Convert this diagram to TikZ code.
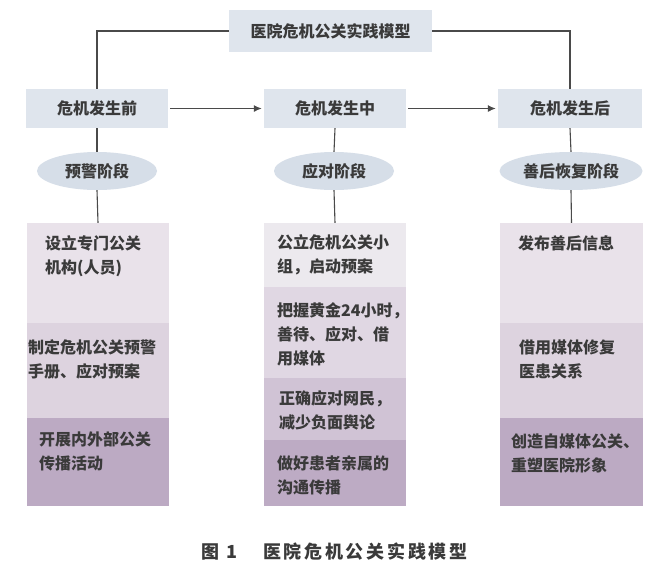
\documentclass[tikz,border=0pt]{standalone}
\usepackage{fontspec}
\setmainfont{Noto Sans CJK SC}
\newfontfamily\cjk{Noto Sans CJK SC}
\usetikzlibrary{arrows.meta,shapes.geometric}
\definecolor{boxblue}{HTML}{DFE5ED}
\definecolor{ellblue}{HTML}{D6DEE8}
\definecolor{secA}{HTML}{E9E2EA}
\definecolor{secB}{HTML}{DDD3DF}
\definecolor{secC}{HTML}{BCAAC3}
\definecolor{midA}{HTML}{ECE9EE}
\definecolor{midB}{HTML}{E0D7E3}
\definecolor{midC}{HTML}{D0C3D5}
\definecolor{midD}{HTML}{BDABC4}
\definecolor{ink}{HTML}{3A3A3A}
\definecolor{wire}{HTML}{4A4A4A}
\begin{document}
\begin{tikzpicture}[x=1pt,y=-1pt,
  hdr/.style={rectangle, fill=boxblue, inner sep=0, text=ink,
    font=\cjk\bfseries\fontsize{16}{20}\selectfont},
  phase/.style={ellipse, fill=ellblue, inner sep=0, text=ink,
    font=\cjk\bfseries\fontsize{16}{20}\selectfont},
  sect/.style={rectangle, inner sep=0, minimum width=142pt},
  txt/.style={anchor=north west, inner sep=0, align=left, text=ink,
    font=\cjk\bfseries\fontsize{16}{24}\selectfont},
  wirel/.style={draw=wire, line width=1.1pt},
  arr/.style={wirel, -{Latex[length=8pt,width=7pt]}, shorten <=2pt, shorten >=2pt}]
\useasboundingbox (0,0) rectangle (672,576);
\fill[white] (0,0) rectangle (672,576);

% header boxes
\node[hdr, minimum width=203pt, minimum height=42pt] (top) at (330.5,31) {医院危机公关实践模型};
\node[hdr, minimum width=142pt, minimum height=39pt] (b1) at (97,108.5) {危机发生前};
\node[hdr, minimum width=142pt, minimum height=39pt] (b2) at (335,108.5) {危机发生中};
\node[hdr, minimum width=144pt, minimum height=39pt] (b3) at (570,108.5) {危机发生后};

% phase ellipses
\node[phase, minimum width=120pt, minimum height=38pt] (e1) at (97,171) {预警阶段};
\node[phase, minimum width=120pt, minimum height=38pt] (e2) at (334,171) {应对阶段};
\node[phase, minimum width=143pt, minimum height=38pt] (e3) at (571,171) {善后恢复阶段};

% left column sections
\node[sect, fill=secA, minimum height=100pt] (L1) at (98,273) {};
\node[sect, fill=secB, minimum height=95pt] (L2) at (98,370.5) {};
\node[sect, fill=secC, minimum height=88pt] (L3) at (98,462) {};
% middle column sections
\node[sect, fill=midA, minimum height=64pt] (M1) at (335,255) {};
\node[sect, fill=midB, minimum height=91pt] (M2) at (335,332.5) {};
\node[sect, fill=midC, minimum height=62pt] (M3) at (335,409) {};
\node[sect, fill=midD, minimum height=66pt] (M4) at (335,473) {};
% right column sections
\node[sect, fill=secA, minimum width=143pt, minimum height=100pt] (R1) at (571.5,273) {};
\node[sect, fill=secB, minimum width=143pt, minimum height=95pt] (R2) at (571.5,370.5) {};
\node[sect, fill=secC, minimum width=143pt, minimum height=88pt] (R3) at (571.5,462) {};

% texts
\node[txt] (tL1) at (45,235) {设立专门公关\\机构(人员)};
\node[txt] (tL2) at (28,339) {制定危机公关预警\\手册、应对预案};
\node[txt] (tL3) at (39,431) {开展内外部公关\\传播活动};
\node[txt] (tM1) at (277,234) {公立危机公关小\\组，启动预案};
\node[txt] (tM2) at (277,302) {把握黄金24小时，\\善待、应对、借\\用媒体};
\node[txt] (tM3) at (279,390) {正确应对网民，\\减少负面舆论};
\node[txt] (tM4) at (277,456) {做好患者亲属的\\沟通传播};
\node[txt] (tR1) at (518,235) {发布善后信息};
\node[txt] (tR2) at (519,340) {借用媒体修复\\医患关系};
\node[txt] (tR3) at (511,434) {创造自媒体公关、\\重塑医院形象};

% connectors
\draw[wirel] (top.west) -| (b1.north);
\draw[wirel] (top.east) -| (b3.north);
\draw[arr] (b1.east) -- (b2.west);
\draw[arr] (b2.east) -- (b3.west);
\draw[wirel] (b1.south) -- (e1.north);
\draw[wirel] (b2.south) -- (e2.north);
\draw[wirel] (b3.south) -- (e3.north);
\draw[wirel] (e1.south) -- (L1.north);
\draw[wirel] (e2.south) -- (M1.north);
\draw[wirel] (e3.south) -- (R1.north);

% caption
\node[anchor=west, inner sep=0, text=ink, font=\cjk\bfseries\fontsize{18}{22}\selectfont\addfontfeatures{LetterSpace=15}] (cap) at (201,552) {图\hspace{7pt}1\hspace{26pt}医院危机公关实践模型};
\end{tikzpicture}
\end{document}
